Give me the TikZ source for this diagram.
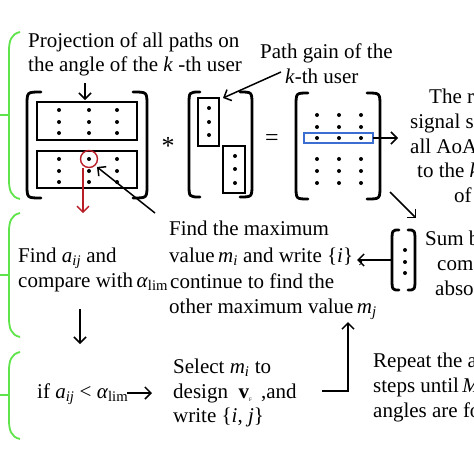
\documentclass[tikz,border=0pt]{standalone}
\usepackage{fontspec}
\setmainfont{Liberation Serif}
\usetikzlibrary{arrows.meta}
\definecolor{gbr}{RGB}{95,228,75}
\definecolor{rred}{RGB}{185,30,40}
\definecolor{bblue}{RGB}{60,110,210}
\newcommand\ParenArc[4]{\draw[paren] (#2,#3) .. controls (#1,#3) .. (#1,#3+13) -- (#1,#4-13) .. controls (#1,#4) .. (#2,#4);}
\newcommand\GreenBrace[3]{\draw[brace] (20,#1) .. controls (11,#1+2) and (9,#1+9) .. (9,#1+19) -- (9,#3-19) .. controls (9,#3-9) and (11,#3-2) .. (20,#3); \draw[brace] (9,#2) -- (-2,#2);}
\begin{document}
\begin{tikzpicture}[x=1pt,y=-1pt,
 txt/.style={font=\fontsize{21}{25}\selectfont, inner sep=0pt, anchor=base west},
 paren/.style={line width=2.8pt, line cap=round},
 box/.style={line width=1.4pt},
 arr/.style={line width=1.5pt, -{Straight Barb[length=6pt,width=12pt]}},
 dotn/.style={circle, fill, inner sep=0pt, minimum size=4pt},
 brace/.style={draw=gbr, line width=1.8pt}]
\useasboundingbox (0,0) rectangle (474,474);
\clip (0,0) rectangle (474,474);

% green braces
\GreenBrace{32}{115}{199}
\GreenBrace{213}{275}{337}
\GreenBrace{352}{395}{439}

% matrix 1
\ParenArc{27}{41}{92}{198}
\ParenArc{147}{133}{92}{198}
\draw[box] (37,102) rectangle (137,140);
\draw[box] (37,151) rectangle (137,188);
\foreach \x in {59,89,117} \foreach \y in {110,122,133,159,171,182} \node[dotn] at (\x,\y) {};
\node[draw=rred, line width=1.4pt, circle, minimum size=17pt, inner sep=0pt] (circ) at (89,159) {};
\coordinate (redS) at (83,168);
\coordinate (redE) at (83,213);
\draw[arr, rred, line width=1.3pt] (redS) -- (redE);

% star
\node[font=\fontsize{26}{26}\selectfont, inner sep=0pt] (star) at (168,146) {*};

% matrix 2
\ParenArc{189}{200}{92}{197}
\ParenArc{252}{240}{92}{197}
\draw[box] (198,98) rectangle (219,146);
\draw[box] (223,146) rectangle (245,193);
\foreach \y in {108,122,135} \node[dotn] at (209,\y) {};
\foreach \y in {156,169,183} \node[dotn] at (235,\y) {};

% equals
\node[font=\fontsize{24}{24}\selectfont, inner sep=0pt] (eq) at (272,140) {=};

% matrix 3
\ParenArc{296}{308}{93}{199}
\ParenArc{380}{367}{93}{199}
\foreach \x in {317,339,361} \foreach \y in {115,127,138,159,171,183} \node[dotn] at (\x,\y) {};
\draw[bblue, line width=1.4pt] (304,133) rectangle (373,143);
\coordinate (blueE) at (373,138);
\coordinate (blueT) at (398,138);
\draw[arr] (blueE) -- (blueT);
\coordinate (m3S) at (390,192);
\coordinate (m3T) at (416,218);
\draw[arr] (m3S) -- (m3T);

% vector
\ParenArc{392}{399}{230}{290}
\ParenArc{415}{408}{230}{290}
\foreach \y in {250,262,273} \node[dotn] at (405,\y) {};
\coordinate (vecS) at (391,260);
\coordinate (vecT) at (357,260);
\draw[arr] (vecS) -- (vecT);

% texts top
\node[txt] (proj1) at (28,47) {Projection of all paths on};
\node[txt] (proj2) at (28,71) {the angle of the \textit{k} -th user};
\coordinate (projA) at (85,83);
\coordinate (projB) at (85,100);
\draw[arr] (projA) -- (projB);

\node[txt] (pg1) at (260,58) {Path gain of the};
\node[txt] (pg2) at (285,83) {\textit{k}-th user};
\coordinate (pgA) at (281,72);
\coordinate (pgB) at (223,98);
\draw[arr] (pgA) -- (pgB);

% right-hand texts, cut at the picture's edge as in the reference
\node[txt] (r1) at (429,103) {The r};
\node[txt] (r2) at (410,128) {signal s};
\node[txt] (r3) at (410,153) {all AoA};
\node[txt] (r4) at (417,177) {to the \textit{k}};
\node[txt] (r5) at (454,202) {of};

% middle
\node[txt] (fm1) at (169,235) {Find the maximum};
\node[txt] (fm2) at (169,262) {value\,\textit{m}\textsubscript{\textit{i}} and write \{\textit{i}\} ,};
\node[txt] (fm3) at (170,288) {continue to find the};
\node[txt] (fm4) at (169,313) {other maximum value\,\textit{m}\textsubscript{\textit{j}}};
\coordinate (fmA) at (155,213);
\coordinate (fmB) at (97,167);
\draw[arr] (fmA) -- (fmB);

\node[txt] (sb1) at (425,245) {Sum b};
\node[txt] (sb2) at (437,270) {com};
\node[txt] (sb3) at (435,295) {abso};

\node[txt] (fa1) at (18,262) {Find \textit{a}\textsubscript{\textit{ij}} and};
\node[txt] (fa2) at (18,287) {compare with\,\textit{α}\textsubscript{lim}};
\coordinate (faA) at (80,309);
\coordinate (faB) at (80,344);
\draw[arr] (faA) -- (faB);

% bottom
\node[txt] (ifn) at (37,398) {if \textit{a}\textsubscript{\textit{ij}} < \textit{α}\textsubscript{lim}};
\coordinate (ifA) at (127,393);
\coordinate (ifB) at (152,393);
\draw[arr] (ifA) -- (ifB);

\node[txt] (sel1) at (173,373) {Select \textit{m}\textsubscript{\textit{i}} to};
\node[txt] (sel2) at (173,398) {design \ \textbf{v}\textsubscript{\tiny F} \,,and};
\node[txt] (sel3) at (173,422) {write \{\textit{i}, \textit{j}\}};
\coordinate (upA) at (322,391);
\coordinate (upC) at (348,391);
\coordinate (upB) at (348,322);
\draw[arr] (upA) -- (upC) -- (upB);

\node[txt] (rep1) at (373,367) {Repeat the a};
\node[txt] (rep2) at (373,392) {steps until\,\textit{M}};
\node[txt] (rep3) at (373,417) {angles are fo};
\end{tikzpicture}
\end{document}
